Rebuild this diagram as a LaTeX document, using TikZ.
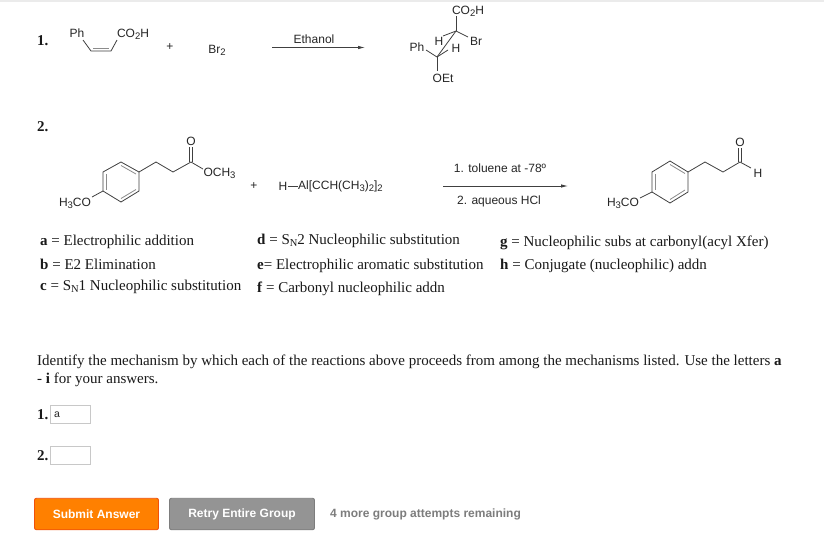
\documentclass[tikz,border=0pt]{standalone}
\usepackage{fontspec}
\setmainfont{Liberation Serif}
\newfontfamily\chemf{Liberation Sans}
\usetikzlibrary{arrows.meta,calc}
\definecolor{bondc}{gray}{0.25}
\definecolor{orangeb}{RGB}{255,128,0}
\definecolor{oranged}{RGB}{240,80,10}
\definecolor{grayb}{RGB}{148,148,148}
\definecolor{grayd}{RGB}{125,125,125}
\definecolor{inputb}{RGB}{200,200,200}
\definecolor{infoc}{RGB}{125,125,125}
\newcommand{\chs}[1]{\raisebox{-2.2pt}{\fontsize{9.5}{10}\selectfont #1}}
\newcommand{\sns}{S\raisebox{-2.5pt}{\fontsize{10.5}{11}\selectfont N}}
\tikzset{
 x=1pt,y=-1pt,
 bond/.style={draw=bondc,line width=0.8pt},
 chem/.style={inner sep=0pt,font=\chemf\fontsize{12}{14}\selectfont,text=black!85},
 serif/.style={inner sep=0pt,anchor=base west,font=\fontsize{15}{18}\selectfont,text=black!90},
 serifb/.style={serif,font=\bfseries\fontsize{15}{18}\selectfont},
 rarrow/.style={draw=bondc,line width=0.8pt,-{Latex[length=7pt,width=3.5pt]}},
 inputbox/.style={draw=inputb,fill=white,line width=0.9pt,minimum width=40pt,minimum height=18.5pt,inner sep=0pt},
 btn/.style={rounded corners=2pt,line width=0.9pt,minimum height=31.5pt,inner sep=0pt,text=white,font=\chemf\bfseries\fontsize{12}{14}\selectfont},
}
\begin{document}
\begin{tikzpicture}
\useasboundingbox (0,0) rectangle (824,539);
\fill[white] (0,0) rectangle (824,539);
\fill[black!8] (0,0) rectangle (824,2);

% Reaction 1
\node[serifb] (n1) at (37,45) {1.};
\node[chem] (ph1) at (77,33) {Ph};
\node[chem] (co1) at (133,34) {CO\chs{2}H};
\coordinate (a1) at (91,51);
\coordinate (a2) at (111,51);
\draw[bond] (83,40) -- (a1) -- (a2) -- (117,40);
\draw[bond,draw=bondc!60] (93,48.5) -- (109,48.5);
\node[chem] (plus1) at (170,47) {+};
\node[chem] (br2) at (217,50) {Br\chs{2}};
\node[chem] (eth) at (314,39) {Ethanol};
\coordinate (ar1s) at (272,47.5);
\coordinate (ar1e) at (365,47.5);
\draw[rarrow] (ar1s) -- (ar1e);
\node[chem] (co2) at (468,11) {CO\chs{2}H};
\coordinate (c1) at (456,31);
\coordinate (c2) at (437,57);
\node[chem] (h1) at (439,41) {H};
\node[chem] (h2) at (456,48) {H};
\node[chem] (brr) at (476,41) {Br};
\node[chem] (phr) at (417,47) {Ph};
\node[chem] (oet) at (443,78) {OEt};
\draw[bond] (456,16) -- (c1);
\draw[bond] (c1) -- (468,37);
\draw[bond] (c1) -- (443,36);
\draw[bond] (c1) -- (c2);
\draw[bond] (c2) -- (448,50);
\draw[bond] (426,50) -- (c2);
\draw[bond] (c2) -- (437,71);

% Reaction 2
\node[serifb] (n2) at (37,131) {2.};
\coordinate (r1) at (121,162); \coordinate (r2) at (139,172); \coordinate (r3) at (139,191);
\coordinate (r4) at (121,202); \coordinate (r5) at (103,191); \coordinate (r6) at (103,172);
\draw[bond] (r1) -- (r2) -- (r3) -- (r4) -- (r5) -- (r6) -- cycle;
\draw[bond,draw=bondc!60] (121,165.5) -- (136,174);
\draw[bond,draw=bondc!60] (136,189.5) -- (121,198.5);
\draw[bond,draw=bondc!60] (106,174) -- (106,189.5);
\draw[bond] (r2) -- (156,162) -- (173,172) -- (191,162) -- (203,169);
\draw[bond] (189.5,162) -- (189.5,147);
\draw[bond] (192.5,162) -- (192.5,147);
\draw[bond] (r5) -- (92,197);
\node[chem] (o1) at (191,141) {O};
\node[chem] (och3) at (219.5,173) {OCH\chs{3}};
\node[chem] (h3co1) at (75,203.5) {H\chs{3}CO};
\node[chem] (plus2) at (254,186) {+};
\node[chem] (hh) at (283,186) {H};
\node[chem,anchor=west] (al) at (298,186) {Al[CCH(CH\chs{3})\chs{2}]\chs{2}};
\draw[bond] (288,186) -- (al.west);
\node[chem] (tol) at (500,168) {1. toluene at -78º};
\node[chem] (aq) at (499,201) {2. aqueous HCl};
\coordinate (ar2s) at (443,186);
\coordinate (ar2e) at (568,186);
\draw[rarrow] (ar2s) -- (ar2e);

\coordinate (q1) at (670,161); \coordinate (q2) at (688,172); \coordinate (q3) at (688,192);
\coordinate (q4) at (670,203); \coordinate (q5) at (652,192); \coordinate (q6) at (652,172);
\draw[bond] (q1) -- (q2) -- (q3) -- (q4) -- (q5) -- (q6) -- cycle;
\draw[bond,draw=bondc!60] (670,164.5) -- (685,173.5);
\draw[bond,draw=bondc!60] (685,190) -- (670,199.5);
\draw[bond,draw=bondc!60] (655,174) -- (655,190);
\draw[bond] (q2) -- (705,162) -- (723,172) -- (740,162) -- (751,168);
\draw[bond] (738.5,162) -- (738.5,148);
\draw[bond] (741.5,162) -- (741.5,148);
\draw[bond] (q5) -- (640,198);
\node[chem] (o2) at (740,142) {O};
\node[chem] (h3) at (758,173) {H};
\node[chem] (h3co2) at (623,203.5) {H\chs{3}CO};

% Mechanism list
\node[serif] (la) at (40,245.5) {\textbf{a} = Electrophilic addition};
\node[serif] (lb) at (40,269) {\textbf{b} = E2 Elimination};
\node[serif] (lc) at (40,290) {\textbf{c} = \sns{}1 Nucleophilic substitution};
\node[serif] (ld) at (257,244) {\textbf{d} = \sns{}2 Nucleophilic substitution};
\node[serif] (le) at (257,269) {\textbf{e}= Electrophilic aromatic substitution};
\node[serif] (lf) at (257,292) {\textbf{f} = Carbonyl nucleophilic addn};
\node[serif] (lg) at (500,246.5) {\textbf{g} = Nucleophilic subs at carbonyl(acyl Xfer)};
\node[serif] (lh) at (500,269) {\textbf{h} = Conjugate (nucleophilic) addn};

% Question
\node[serif] (p1) at (37,365) {Identify the mechanism by which each of the reactions above proceeds from among the mechanisms listed. Use the letters \textbf{a}};
\node[serif] (p2) at (37,383) {- \textbf{i} for your answers.};

\node[serifb] (ans1) at (37,419) {1.};
\node[serifb] (ans2) at (37,460) {2.};
\node[inputbox] (in1) at (70.5,414.5) {};
\node[inputbox] (in2) at (70.5,455.5) {};
\node[chem,font=\chemf\fontsize{10.5}{12}\selectfont,anchor=west] (inval) at (54,415) {a};

% Buttons
\node[btn,draw=oranged,fill=orangeb,minimum width=124pt] (sub) at (96.5,514) {Submit Answer};
\node[btn,draw=grayd,fill=grayb,minimum width=145pt] (ret) at (242,514) {Retry Entire Group};
\node[inner sep=0pt,anchor=west,text=infoc,font=\chemf\bfseries\fontsize{12}{14}\selectfont] (info) at (330,514) {4 more group attempts remaining};
\end{tikzpicture}
\end{document}
